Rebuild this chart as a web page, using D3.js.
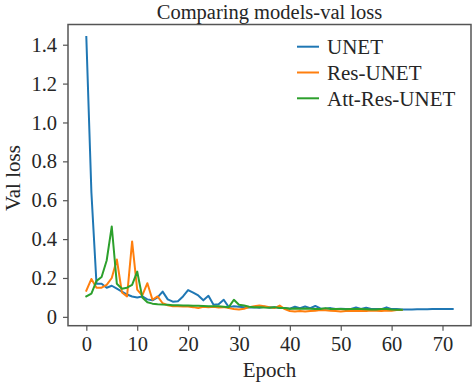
<!DOCTYPE html>
<html>
<head>
<meta charset="utf-8">
<script src="https://cdn.jsdelivr.net/npm/d3@7"></script>
<style>
html,body{margin:0;padding:0;background:#fff;}
svg{display:block;}
text{font-family:"Liberation Serif","DejaVu Serif",serif;fill:#262626;}
</style>
</head>
<body>
<svg id="chart" width="474" height="382"></svg>
<script>
const unet = [1.44,0.64,0.17,0.17,0.15,0.16,0.145,0.13,0.115,0.105,
  0.1,0.105,0.09,0.085,0.1,0.13,0.09,0.078,0.08,0.105,
  0.138,0.125,0.11,0.085,0.108,0.062,0.065,0.088,0.05,0.055,
  0.052,0.05,0.048,0.05,0.047,0.052,0.048,0.05,0.046,0.045,
  0.042,0.052,0.044,0.053,0.045,0.056,0.043,0.042,0.045,0.04,
  0.042,0.04,0.041,0.048,0.04,0.047,0.04,0.041,0.04,0.049,
  0.04,0.04,0.038,0.038,0.038,0.039,0.039,0.039,0.04,0.04,
  0.04,0.041,0.041];
const resUnet = [0.135,0.195,0.15,0.15,0.165,0.2,0.295,0.125,0.105,0.388,
  0.14,0.11,0.173,0.088,0.105,0.07,0.06,0.055,0.055,0.053,
  0.053,0.05,0.045,0.052,0.05,0.052,0.048,0.05,0.045,0.04,
  0.038,0.042,0.05,0.055,0.058,0.055,0.05,0.045,0.058,0.04,
  0.03,0.028,0.03,0.028,0.03,0.032,0.035,0.034,0.032,0.03,
  0.028,0.03,0.032,0.03,0.032,0.03,0.033,0.032,0.03,0.033,
  0.032,0.035,0.035];
const attResUnet = [0.105,0.12,0.185,0.205,0.29,0.465,0.17,0.145,0.15,0.165,
  0.233,0.1,0.075,0.068,0.065,0.063,0.062,0.06,0.06,0.058,
  0.058,0.057,0.057,0.056,0.055,0.055,0.054,0.052,0.05,0.088,
  0.062,0.058,0.052,0.05,0.05,0.048,0.047,0.05,0.046,0.045,
  0.042,0.043,0.042,0.043,0.042,0.04,0.04,0.045,0.04,0.04,
  0.04,0.039,0.04,0.04,0.04,0.039,0.038,0.038,0.04,0.04,
  0.038,0.037,0.037];
const seriesNames = ["UNET","Res-UNET","Att-Res-UNET"];
const xTicks = [0,10,20,30,40,50,60,70];
const yTicks = [0,0.2,0.4,0.6,0.8,1.0,1.2,1.4];
const titleText = "Comparing models-val loss";
const xLabel = "Epoch";
const yLabel = "Val loss";

const colors = ["#1f77b4","#ff7f0e","#2ca02c"];
const seriesData = [unet,resUnet,attResUnet];

const L=68, R=471, T=24.5, B=325.7;
const svg = d3.select("#chart");
const x = d3.scaleLinear().domain([-3.6,75.6]).range([L,R]);
const y = d3.scaleLinear().domain([-0.0455,1.504]).range([B,T]);

svg.append("defs").append("clipPath").attr("id","clip")
  .append("rect").attr("x",L).attr("y",T).attr("width",R-L).attr("height",B-T);

const line = d3.line().x((d,i)=>x(i)).y(d=>y(d));
const g = svg.append("g").attr("clip-path","url(#clip)");
seriesData.forEach((s,k)=>{
  g.append("path").datum(s).attr("d",line)
    .attr("fill","none").attr("stroke",colors[k]).attr("stroke-width",2)
    .attr("stroke-linejoin","round").attr("stroke-linecap","square");
});

// axes
const xAxis = svg.append("g").attr("transform",`translate(0,${B})`)
  .call(d3.axisBottom(x).tickValues(xTicks).tickSize(5).tickPadding(5).tickFormat(d3.format("d")));
const yAxis = svg.append("g").attr("transform",`translate(${L},0)`)
  .call(d3.axisLeft(y).tickValues(yTicks).tickSize(5).tickPadding(6).tickFormat(d=>d===0?"0":d.toFixed(1)));
[xAxis,yAxis].forEach(a=>{
  a.select(".domain").remove();
  a.selectAll(".tick line").attr("stroke","#555").attr("stroke-width",1.2);
  a.selectAll(".tick text").attr("font-family","Liberation Serif, serif").attr("font-size",20.5).attr("fill","#262626");
});
xAxis.selectAll(".tick text").attr("dy","0.76em");

svg.append("rect").attr("x",L).attr("y",T).attr("width",R-L).attr("height",B-T)
  .attr("fill","none").attr("stroke","#555").attr("stroke-width",1.5);

svg.append("text").attr("x",(L+R)/2).attr("y",18.5).attr("text-anchor","middle")
  .attr("font-size",20.5).text(titleText);
svg.append("text").attr("x",(L+R)/2).attr("y",377).attr("text-anchor","middle")
  .attr("font-size",21).text(xLabel);
svg.append("text").attr("transform",`translate(20,${(T+B)/2+3}) rotate(-90)`).attr("text-anchor","middle")
  .attr("font-size",21).text(yLabel);

// legend
const lg = svg.append("g");
seriesNames.forEach((n,k)=>{
  const yy = 46.7 + k*25.8;
  lg.append("line").attr("x1",297).attr("x2",319).attr("y1",yy).attr("y2",yy)
    .attr("stroke",colors[k]).attr("stroke-width",2);
  lg.append("text").attr("x",327).attr("y",yy).attr("dy","0.35em").attr("font-size",21).text(n);
});
</script>
</body>
</html>
